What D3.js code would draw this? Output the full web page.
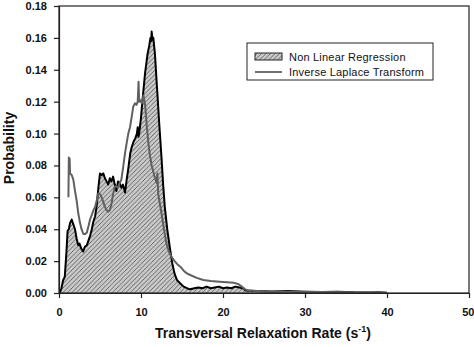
<!DOCTYPE html>
<html><head><meta charset="utf-8">
<script src="https://cdn.jsdelivr.net/npm/d3@7"></script>
<style>
html,body{margin:0;padding:0;background:#fff;}
svg{display:block;font-family:"Liberation Sans",Arial,sans-serif;}
</style></head>
<body>
<svg id="c" width="474" height="347"></svg>
<script>
// ---- data ----
const xTicks = [0, 10, 20, 30, 40, 50];
const yTicks = [0, 0.02, 0.04, 0.06, 0.08, 0.10, 0.12, 0.14, 0.16, 0.18];
const seriesNames = ["Non Linear Regression", "Inverse Laplace Transform"];
const xTitle = "Transversal Relaxation Rate (s";
const yTitle = "Probability";

const nlrX = [0.1,0.3,0.5,0.7,0.9,1.05,1.2,1.35,1.55,1.75,1.95,2.15,2.35,2.5,2.7,2.95,3.15,3.4,3.6,3.8,4.0,4.2,4.4,4.6,4.8,5.0,5.2,5.4,5.6,5.8,6.0,6.2,6.4,6.6,6.8,7.0,7.2,7.4,7.6,7.8,8.05,8.25,8.45,8.7,8.9,9.1,9.3,9.5,9.6,9.7,9.8,10.0,10.2,10.5,10.8,11.0,11.15,11.25,11.3,11.4,11.5,11.7,11.9,12.0,12.2,12.5,12.7,12.9,13.2,13.5,13.8,14.1,14.4,14.8,15.2,15.6,16.0,16.5,17.0,17.5,18.0,18.5,19.0,19.5,20.0,20.5,21.0,21.5,22.0,22.4,22.8,24,26,28,30,32,34,36,38,39,40];
const nlrY = [0,0.003,0.008,0.010,0.025,0.039,0.040,0.044,0.046,0.043,0.040,0.034,0.030,0.031,0.028,0.026,0.029,0.030,0.033,0.036,0.040,0.045,0.048,0.055,0.066,0.075,0.074,0.075,0.072,0.070,0.068,0.072,0.070,0.073,0.068,0.064,0.070,0.069,0.066,0.068,0.063,0.071,0.078,0.088,0.092,0.095,0.097,0.100,0.104,0.098,0.101,0.110,0.122,0.138,0.150,0.155,0.160,0.158,0.164,0.159,0.160,0.150,0.133,0.125,0.108,0.085,0.068,0.054,0.040,0.029,0.019,0.012,0.008,0.006,0.004,0.003,0.0023,0.003,0.0035,0.003,0.004,0.003,0.0035,0.004,0.003,0.0035,0.003,0.004,0.0035,0.003,0.0015,0.0012,0.001,0.0012,0.0008,0.0006,0.0008,0.0004,0.0003,0.0005,0];

const iltX = [1.15,1.2,1.3,1.35,1.55,1.75,1.95,2.15,2.35,2.56,2.75,2.97,3.2,3.4,3.6,3.78,4.0,4.2,4.4,4.6,4.8,5.0,5.2,5.4,5.6,5.8,6.0,6.2,6.4,6.6,6.8,7.0,7.2,7.4,7.6,7.8,8.05,8.25,8.45,8.66,8.85,9.06,9.27,9.45,9.6,9.7,9.78,9.9,10.1,10.3,10.5,10.7,10.9,11.1,11.3,11.5,11.7,11.9,12.0,12.1,12.3,12.5,12.8,13.1,13.4,13.7,14.1,14.5,14.8,15.2,15.6,16.0,16.8,17.6,18.5,19.6,20.5,21.3,21.9,22.3,22.7,23.2,25,28,32,36,40];
const iltY = [0.060,0.085,0.084,0.075,0.074,0.071,0.064,0.058,0.050,0.044,0.040,0.037,0.037,0.038,0.042,0.046,0.049,0.052,0.054,0.058,0.0625,0.062,0.060,0.057,0.054,0.052,0.051,0.052,0.056,0.062,0.0667,0.067,0.066,0.069,0.071,0.078,0.0876,0.094,0.100,0.104,0.110,0.117,0.119,0.118,0.120,0.1325,0.120,0.121,0.119,0.124,0.118,0.105,0.094,0.086,0.080,0.076,0.072,0.069,0.075,0.062,0.056,0.050,0.040,0.031,0.026,0.0228,0.020,0.0176,0.0165,0.014,0.0123,0.0113,0.0095,0.0082,0.0075,0.0071,0.0068,0.0065,0.0055,0.004,0.0023,0.0015,0.001,0.0008,0.0006,0.0004,0.0003];

// ---- chart ----
const svg = d3.select("#c");
const m = {l:59, t:6, r:469, b:293};
const x = d3.scaleLinear().domain([0,50]).range([m.l, m.r]);
const y = d3.scaleLinear().domain([0,0.18]).range([m.b, m.t]);

const defs = svg.append("defs");
const pat = defs.append("pattern").attr("id","hatch").attr("patternUnits","userSpaceOnUse")
  .attr("width",4.5).attr("height",4.5);
pat.append("rect").attr("width",4.5).attr("height",4.5).attr("fill","#cacaca");
pat.append("path").attr("d","M-1,1 l2,-2 M0,4.5 l4.5,-4.5 M3.5,5.5 l2,-2").attr("stroke","#5a5a5a").attr("stroke-width",0.9);

const nlr = nlrX.map((d,i)=>[d,nlrY[i]]);
const ilt = iltX.map((d,i)=>[d,iltY[i]]);

svg.append("path").datum(nlr)
  .attr("d", d3.area().x(d=>x(d[0])).y0(y(0)).y1(d=>y(d[1])))
  .attr("fill","url(#hatch)");
svg.append("path").datum(nlr)
  .attr("d", d3.line().x(d=>x(d[0])).y(d=>y(d[1])))
  .attr("fill","none").attr("stroke","#000").attr("stroke-width",2).attr("stroke-linejoin","round");
svg.append("path").datum(ilt)
  .attr("d", d3.line().x(d=>x(d[0])).y(d=>y(d[1])))
  .attr("fill","none").attr("stroke","#606060").attr("stroke-width",2).attr("stroke-linejoin","round");

// frame
svg.append("rect").attr("x",m.l).attr("y",m.t).attr("width",m.r-m.l).attr("height",m.b-m.t)
  .attr("fill","none").attr("stroke","#222").attr("stroke-width",1.2);

// axes
const xa = svg.append("g").attr("transform",`translate(0,${m.b})`)
  .call(d3.axisBottom(x).tickValues(xTicks).tickFormat(d3.format("d")).tickSize(5).tickSizeOuter(0));
const ya = svg.append("g").attr("transform",`translate(${m.l},0)`)
  .call(d3.axisLeft(y).tickValues(yTicks).tickFormat(d3.format(".2f")).tickSize(5).tickSizeOuter(0));
[xa,ya].forEach(a=>{
  a.select(".domain").attr("stroke","#222").attr("stroke-width",1.2);
  a.selectAll(".tick line").attr("stroke","#222").attr("stroke-width",1.2);
  a.selectAll("text").attr("font-family","'Liberation Sans',Arial,sans-serif")
    .attr("font-size",11).attr("font-weight","bold").attr("fill","#111");
});
xa.selectAll("text").attr("dy","1.35em");
xa.selectAll(".tick").filter(d=>d===50).select("text").attr("text-anchor","end").attr("x",5);
ya.selectAll("text").attr("x",-12);

// titles
const xt = svg.append("text").attr("x",263).attr("y",338).attr("text-anchor","middle")
  .attr("font-size",14).attr("font-weight","bold").attr("fill","#111");
xt.append("tspan").text(xTitle);
xt.append("tspan").text("-1").attr("font-size",9).attr("dy",-6);
xt.append("tspan").text(")").attr("dy",6);
svg.append("text").attr("transform","translate(14,148) rotate(-90)").attr("text-anchor","middle")
  .attr("font-size",14).attr("font-weight","bold").attr("fill","#111").text(yTitle);

// legend
const lg = svg.append("g");
lg.append("rect").attr("x",247).attr("y",43).attr("width",186).attr("height",37)
  .attr("fill","#fff").attr("stroke","#222").attr("stroke-width",1);
lg.append("rect").attr("x",255).attr("y",53).attr("width",27).attr("height",7)
  .attr("fill","url(#hatch)").attr("stroke","#222").attr("stroke-width",1);
lg.append("line").attr("x1",255).attr("x2",282).attr("y1",72).attr("y2",72)
  .attr("stroke","#404040").attr("stroke-width",1.5);
lg.selectAll("text.l").data(seriesNames).join("text")
  .attr("x",289).attr("y",(d,i)=>61+i*14.5)
  .attr("font-size",11).attr("fill","#111").attr("letter-spacing",0.2).text(d=>d);
</script>
</body></html>
